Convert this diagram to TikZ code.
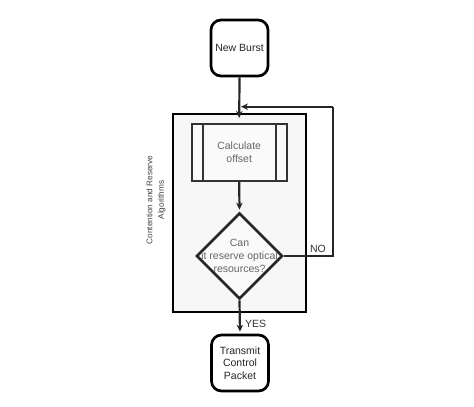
\documentclass[tikz,border=0pt]{standalone}
\usepackage{fontspec}
\setmainfont{Liberation Sans}
\usetikzlibrary{arrows.meta,shapes.geometric,calc}
\begin{document}
\begin{tikzpicture}[x=1pt,y=-1pt,
  term/.style={draw=black,line width=2.7pt,rounded corners=10pt,fill=white,minimum width=57pt,minimum height=56pt,inner sep=1pt,align=center,font=\fontsize{10.5}{12.5}\selectfont,text=black!85},
  contbox/.style={draw=black,line width=2.7pt,fill=black!3,minimum width=133pt,minimum height=198pt,inner sep=0pt},
  procbox/.style={draw=black!80,line width=2.2pt,fill=black!2,minimum width=95pt,minimum height=57pt,inner sep=0pt,align=center,font=\fontsize{10.5}{13}\selectfont,text=black!60},
  decbox/.style={diamond,draw=black!85,line width=2.7pt,fill=black!2,minimum width=86pt,minimum height=86pt,inner sep=0pt,aspect=1,align=center,font=\fontsize{10.5}{13}\selectfont,text=black!60},
  conn/.style={line width=2.2pt,draw=black!85,-{Stealth[length=7pt,width=6.5pt]}},
  plain/.style={line width=2.2pt,draw=black!85},
  lbl/.style={font=\fontsize{10.5}{12}\selectfont,text=black!80,inner sep=1pt}
]
\useasboundingbox (0,0) rectangle (474,407);
\node[contbox] (cont) at (239.5,213) {};
\node[term] (burst) at (239.5,48) {New Burst};
\node[procbox] (calc) at (239.2,152.5) {Calculate\\offset};
\draw[black!80,line width=1.8pt] ($(calc.north west)+(12,0)$) -- ($(calc.south west)+(12,0)$);
\draw[black!80,line width=1.8pt] ($(calc.north east)+(-12,0)$) -- ($(calc.south east)+(-12,0)$);
\node[decbox] (dec) at (239.5,256) {};
\node[font=\fontsize{10.5}{13}\selectfont,text=black!60,align=center] (dectext) at (239.5,256) {Can\\it reserve optical\\resources?};
\node[term] (trans) at (240,363) {Transmit\\Control\\Packet};
\node[rotate=90,align=center,font=\fontsize{8.2}{11.5}\selectfont,text=black!75] (alg) at (156,200) {Contention and Reserve\\Algorithms};
\coordinate (rc) at (332.7,256);
\coordinate (tc) at (332.7,106.7);
\coordinate (fb) at (239.5,106.7);
\draw[conn,shorten >=5pt] (burst.south) -- (calc.north);
\draw[conn,shorten >=2pt] (calc.south) -- (dec.north);
\draw[plain] (dec.east) -- (rc) -- (tc);
\draw[conn] (tc) -- ([xshift=1.5pt]fb);
\draw[conn,shorten >=2pt] (dec.south) -- (trans.north);
\node[lbl,anchor=south] (no) at (318,254) {NO};
\node[lbl,anchor=west] (yes) at (244,324) {YES};
\end{tikzpicture}
\end{document}
